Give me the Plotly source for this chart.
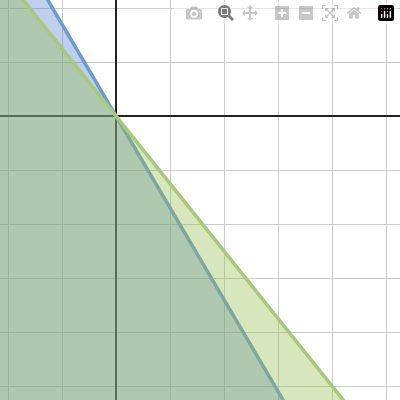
import plotly.graph_objects as go
import numpy as np

# half-planes y <= slope * x
series_names = ["blue", "green"]
slopes = [-1.7, -1.25]
line_colors = ["#6c9bd2", "#a9c97a"]
fill_colors = ["rgba(70,120,200,0.35)", "rgba(150,190,80,0.38)"]

x_range = [-116/54, 284/54]
y_range = [-284/54, 116/54]

fig = go.Figure()
for name, m, lc, fc in zip(series_names, slopes, line_colors, fill_colors):
    xs = np.linspace(x_range[0] - 1, x_range[1] + 1, 50)
    ys = m * xs
    bottom = y_range[0] - 5
    px = list(xs) + [xs[-1], xs[0]]
    py = list(ys) + [bottom, bottom]
    fig.add_trace(go.Scatter(x=px, y=py, fill="toself", fillcolor=fc,
                             line=dict(width=0), mode="lines", hoverinfo="skip"))
    fig.add_trace(go.Scatter(x=xs, y=ys, mode="lines",
                             line=dict(color=lc, width=3.5)))

axis = dict(showgrid=True, gridcolor="#cccccc", gridwidth=1, dtick=1,
            zeroline=True, zerolinecolor="#222222", zerolinewidth=1.5,
            showticklabels=False, ticks="")
fig.update_xaxes(range=x_range, **axis)
fig.update_yaxes(range=y_range, **axis)
fig.update_layout(width=400, height=400, margin=dict(l=0, r=0, t=0, b=0),
                  plot_bgcolor="white", paper_bgcolor="white", showlegend=False)
fig.write_html("out.html")

with open("out.html", encoding="utf-8") as f:
    html = f.read()
html = html.replace("<body>", '<body style="margin:0;padding:0">', 1)
with open("out.html", "w", encoding="utf-8") as f:
    f.write(html)
